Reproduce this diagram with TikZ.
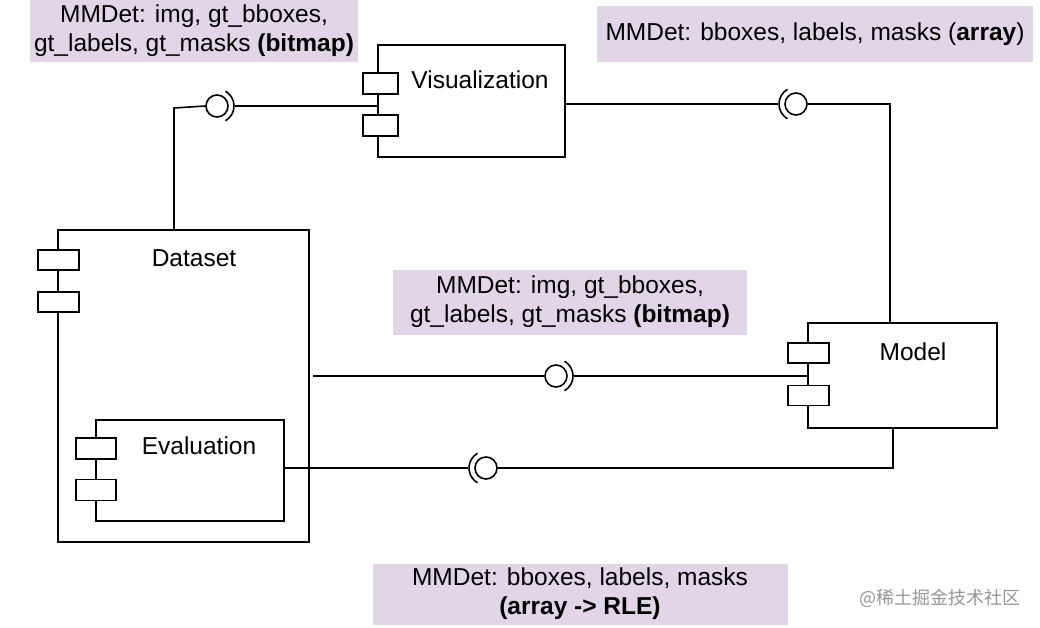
\documentclass[tikz,border=0pt]{standalone}
\usepackage{fontspec}
\usetikzlibrary{calc}
\setmainfont{Liberation Sans}
\newfontfamily\cjk{Noto Sans CJK SC}
\begin{document}
\begin{tikzpicture}[x=1pt,y=-1pt,line width=2pt,
  comp/.style={draw,fill=white,line width=1.6pt},
  port/.style={draw,fill=white,line width=1.6pt},
  lbl/.style={fill={rgb,255:red,225;green,213;blue,231},inner sep=0pt,align=center,font=\fontsize{24.5}{29}\selectfont},
  ttl/.style={font=\fontsize{24.5}{29}\selectfont},
  ball/.style={draw,fill=white,circle,minimum size=22pt,inner sep=0pt,line width=1.6pt}]
\useasboundingbox (0,0) rectangle (1040,627);
% labels
\node[lbl,minimum width=328pt,minimum height=62pt] (l1) at (194,31) {MMDet: img, gt\_bboxes,\\gt\_labels, gt\_masks \textbf{(bitmap)}};
\node[lbl,minimum width=436pt,minimum height=56pt] (l2) at (815,34) {MMDet: bboxes, labels, masks (\textbf{array})};
\node[lbl,minimum width=354pt,minimum height=65pt] (l3) at (570,302) {MMDet: img, gt\_bboxes,\\gt\_labels, gt\_masks \textbf{(bitmap)}};
\node[lbl,minimum width=415pt,minimum height=61pt] (l4) at (580,594) {MMDet: bboxes, labels, masks\\\textbf{(array -> RLE)}};
\node[text={rgb,255:red,150;green,150;blue,150},font=\cjk\fontsize{18}{21}\selectfont] (wm) at (940,598) {@稀土掘金技术社区};
% components
\node[comp,minimum width=187pt,minimum height=112pt] (vis) at (471.5,101) {};
\node[ttl] at (480,80) {Visualization};
\node[port,minimum width=35pt,minimum height=21pt] (vp1) at (380.5,83.5) {};
\node[port,minimum width=35pt,minimum height=21pt] (vp2) at (380.5,125.5) {};
\node[comp,minimum width=251pt,minimum height=312pt] (ds) at (183.5,386) {};
\node[ttl] at (194,258) {Dataset};
\node[port,minimum width=41pt,minimum height=20pt] (dp1) at (58.5,260) {};
\node[port,minimum width=41pt,minimum height=20pt] (dp2) at (58.5,302) {};
\node[comp,minimum width=188pt,minimum height=101pt] (ev) at (190,470.5) {};
\node[ttl] at (199,446) {Evaluation};
\node[port,minimum width=40pt,minimum height=21pt] (ep1) at (96,448.5) {};
\node[port,minimum width=40pt,minimum height=21pt] (ep2) at (96,490) {};
\node[comp,minimum width=189pt,minimum height=105pt] (mod) at (902.5,375.5) {};
\node[ttl] at (913,352) {Model};
\node[port,minimum width=41pt,minimum height=20pt] (mp1) at (808.5,353) {};
\node[port,minimum width=41pt,minimum height=20pt] (mp2) at (808.5,395.5) {};
% interfaces
\node[ball] (b1) at (217,106) {};
\draw[line width=1.6pt] ($(b1)+(-60:17)$) arc[start angle=-60,end angle=60,radius=17];
\node[ball] (b2) at (796,104) {};
\draw[line width=1.6pt] ($(b2)+(120:17)$) arc[start angle=120,end angle=240,radius=17];
\node[ball] (b3) at (556,376) {};
\draw[line width=1.6pt] ($(b3)+(-60:17)$) arc[start angle=-60,end angle=60,radius=17];
\node[ball] (b4) at (486,468) {};
\draw[line width=1.6pt] ($(b4)+(120:17)$) arc[start angle=120,end angle=240,radius=17];
% connectors
\coordinate (c1) at (174,108);
\draw[line width=1.6pt] (ds.north -| c1) -- (c1) -- (b1.west);
\draw[line width=1.6pt] ($(b1.east)+(6,0)$) -- (vis.west |- b1);
\coordinate (c2) at (890,104);
\draw[line width=1.6pt] ($(b2.west)+(-6,0)$) -- (vis.east |- b2);
\draw[line width=1.6pt] (b2.east) -- (c2) -- (c2 |- mod.north);
\coordinate (c3) at (313,376);
\draw[line width=1.6pt] (c3) -- (b3.west);
\draw[line width=1.6pt] ($(b3.east)+(6,0)$) -- (mod.west |- b3);
\coordinate (c4) at (893,468);
\draw[line width=1.6pt] (ev.east |- b4) -- ($(b4.west)+(-6,0)$);
\draw[line width=1.6pt] (b4.east) -- (c4) -- (c4 |- mod.south);
\end{tikzpicture}
\end{document}
